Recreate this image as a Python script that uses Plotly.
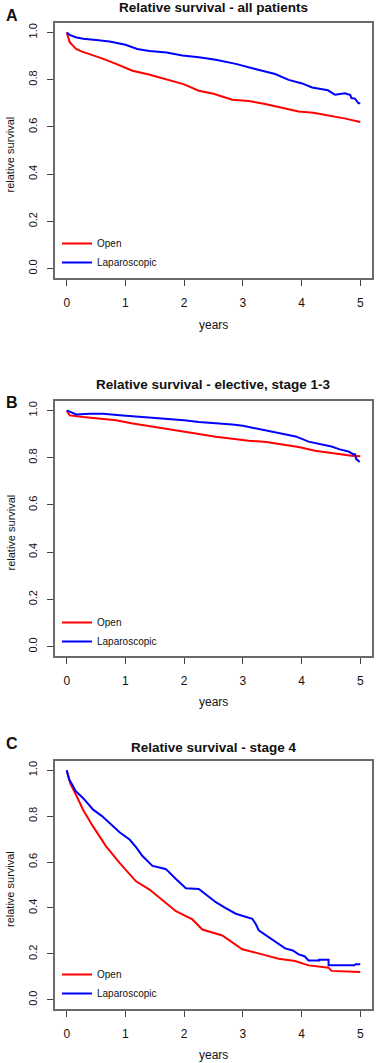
import plotly.graph_objects as go

# ---------------- data ----------------
years_ticks = [0, 1, 2, 3, 4, 5]
surv_ticks = [0.0, 0.2, 0.4, 0.6, 0.8, 1.0]
surv_tick_labels = ["0.0", "0.2", "0.4", "0.6", "0.8", "1.0"]

panel_titles = ["Relative survival - all patients",
                "Relative survival - elective, stage 1-3",
                "Relative survival - stage 4"]
panel_letters = ["A", "B", "C"]
series_names = ["Open", "Laparoscopic"]

# Panel A - all patients
a_open_x = [0, 0.02, 0.05, 0.1, 0.16, 0.25, 0.39, 0.6, 0.84, 1.12, 1.4, 1.69, 2.0, 2.25, 2.5,
            2.82, 3.1, 3.38, 3.65, 3.95, 4.2, 4.51, 4.75, 5.0]
a_open_y = [1.0, 0.98, 0.959, 0.945, 0.93, 0.92, 0.909, 0.89, 0.867, 0.838, 0.822, 0.803, 0.78,
            0.753, 0.74, 0.715, 0.71, 0.697, 0.683, 0.665, 0.66, 0.647, 0.635, 0.621]
a_lap_x = [0, 0.05, 0.15, 0.28, 0.5, 0.73, 1.0, 1.2, 1.41, 1.7, 1.97, 2.25, 2.54, 2.88, 3.21,
           3.55, 3.78, 4.01, 4.18, 4.34, 4.45, 4.57, 4.74, 4.83, 4.85, 4.91, 4.97, 5.0]
a_lap_y = [1.0, 0.99, 0.98, 0.973, 0.968, 0.962, 0.948, 0.93, 0.921, 0.915, 0.902, 0.895, 0.884,
           0.867, 0.845, 0.824, 0.799, 0.784, 0.767, 0.760, 0.755, 0.736, 0.742, 0.735, 0.722,
           0.72, 0.70, 0.70]

# Panel B - elective, stage 1-3
b_open_x = [0, 0.05, 0.28, 0.55, 0.84, 1.1, 1.41, 1.7, 1.97, 2.25, 2.54, 2.8, 3.10, 3.4, 3.67,
            3.95, 4.23, 4.45, 4.68, 4.85, 5.0]
b_open_y = [1.0, 0.979, 0.972, 0.965, 0.958, 0.946, 0.933, 0.92, 0.91, 0.9, 0.889, 0.88, 0.872,
            0.866, 0.857, 0.845, 0.829, 0.822, 0.812, 0.808, 0.806]
b_lap_x = [0, 0.08, 0.16, 0.4, 0.62, 0.9, 1.12, 1.4, 1.69, 2.0, 2.25, 2.54, 2.82, 3.0, 3.21,
           3.45, 3.67, 3.9, 4.12, 4.3, 4.51, 4.65, 4.80, 4.88, 4.91, 4.93, 4.99]
b_lap_y = [1.0, 0.99, 0.983, 0.986, 0.986, 0.98, 0.976, 0.97, 0.965, 0.958, 0.951, 0.947, 0.94,
           0.935, 0.924, 0.913, 0.903, 0.89, 0.868, 0.858, 0.847, 0.835, 0.826, 0.815, 0.815,
           0.795, 0.782]

# Panel C - stage 4
c_open_x = [0, 0.06, 0.16, 0.28, 0.45, 0.67, 0.9, 1.07, 1.18, 1.41, 1.63, 1.86, 2.14, 2.31,
            2.65, 2.99, 3.33, 3.61, 3.89, 4.12, 4.46, 4.51, 5.0]
c_open_y = [1.0, 0.942, 0.892, 0.827, 0.754, 0.668, 0.596, 0.545, 0.516, 0.48, 0.436, 0.386,
            0.35, 0.306, 0.28, 0.22, 0.198, 0.179, 0.169, 0.15, 0.14, 0.126, 0.121]
c_lap_x = [0, 0.04, 0.08, 0.15, 0.28, 0.45, 0.6, 0.73, 0.9, 1.07, 1.18, 1.29, 1.46, 1.6, 1.69,
           1.86, 2.03, 2.25, 2.4, 2.54, 2.7, 2.88, 3.16, 3.22, 3.27, 3.44, 3.6, 3.72, 3.85, 3.95,
           4.05, 4.12, 4.30, 4.30, 4.46, 4.46, 4.90, 4.92, 5.0]
c_lap_y = [1.0, 0.96, 0.943, 0.91, 0.878, 0.828, 0.80, 0.77, 0.73, 0.698, 0.665, 0.626, 0.583,
           0.575, 0.569, 0.526, 0.486, 0.483, 0.455, 0.425, 0.40, 0.375, 0.353, 0.33, 0.303,
           0.274, 0.245, 0.224, 0.215, 0.198, 0.19, 0.171, 0.171, 0.174, 0.174, 0.15, 0.15,
           0.155, 0.155]

panels = [
    (a_open_x, a_open_y, a_lap_x, a_lap_y),
    (b_open_x, b_open_y, b_lap_x, b_lap_y),
    (c_open_x, c_open_y, c_lap_x, c_lap_y),
]

# ---------------- layout geometry (pixels) ----------------
W, H = 376, 1063
FONT = "Arial, 'Liberation Sans', Helvetica, sans-serif"
RED = "#ff0000"
BLUE = "#0000ff"
BOX = "#6a6a6a"

box_left, box_right = 55, 372
box_tops = [23, 401, 761]
box_bottoms = [278, 656, 1009]
title_ys = [7, 385, 747]
letter_ys = [15, 402, 743]
years_ys = [325, 702, 1055]
legend_bottoms = [277, 656, 1008]


def py(px):
    return 1 - px / H


def pxx(px):
    return px / W


fig = go.Figure()
annotations = []

for i, (ox, oy, lx, ly) in enumerate(panels):
    n = "" if i == 0 else str(i + 1)
    leg = "legend" if i == 0 else f"legend{i + 1}"
    fig.add_trace(go.Scatter(x=ox, y=oy, mode="lines", name=series_names[0],
                             line=dict(color=RED, width=2), xaxis="x" + n, yaxis="y" + n,
                             legend=leg))
    fig.add_trace(go.Scatter(x=lx, y=ly, mode="lines", name=series_names[1],
                             line=dict(color=BLUE, width=2),
                             xaxis="x" + n, yaxis="y" + n, legend=leg))

    axis_common = dict(showline=True, linecolor=BOX, linewidth=1.5, mirror=True,
                       ticks="outside", ticklen=6, tickcolor="#444", tickwidth=1,
                       showgrid=False, zeroline=False,
                       tickfont=dict(family=FONT, size=12, color="#111"))
    fig.update_layout(**{
        "xaxis" + n: dict(domain=[pxx(box_left), pxx(box_right)], range=[-0.2, 5.2],
                          tickvals=years_ticks, anchor="y" + n,
                          ticklabelstandoff=7, **axis_common),
        "yaxis" + n: dict(domain=[py(box_bottoms[i]), py(box_tops[i])], range=[-0.04, 1.04],
                          tickvals=surv_ticks, ticktext=surv_tick_labels, tickangle=-90,
                          anchor="x" + n, ticklabelstandoff=6,
                          **{**axis_common, "tickfont": dict(family=FONT, size=11, color="#111")}),
        leg: dict(x=pxx(57), y=py(legend_bottoms[i]), xanchor="left", yanchor="bottom",
                  bgcolor="rgba(0,0,0,0)", itemwidth=30, tracegroupgap=0,
                  font=dict(family=FONT, size=10, color="#111")),
    })

    mid_y_px = (box_tops[i] + box_bottoms[i]) / 2
    annotations += [
        dict(text=f"<b>{panel_titles[i]}</b>", x=pxx((box_left + box_right) / 2),
             y=py(title_ys[i]), xref="paper", yref="paper", showarrow=False,
             xanchor="center", yanchor="middle", font=dict(family=FONT, size=13.5, color="#111")),
        dict(text=f"<b>{panel_letters[i]}</b>", x=pxx(12), y=py(letter_ys[i]),
             xref="paper", yref="paper", showarrow=False, xanchor="center", yanchor="middle",
             font=dict(family=FONT, size=16, color="#111")),
        dict(text="years", x=pxx((box_left + box_right) / 2), y=py(years_ys[i]),
             xref="paper", yref="paper", showarrow=False, xanchor="center", yanchor="middle",
             font=dict(family=FONT, size=12, color="#111")),
        dict(text="relative survival", x=pxx(10), y=py(mid_y_px + 4), xref="paper",
             yref="paper", showarrow=False, textangle=-90, xanchor="center",
             yanchor="middle", font=dict(family=FONT, size=11, color="#111")),
    ]

fig.update_layout(width=W, height=H, margin=dict(l=0, r=0, t=0, b=0),
                  paper_bgcolor="white", plot_bgcolor="white",
                  showlegend=True, annotations=annotations)

fig.write_html("out.html", config={"displayModeBar": False},
               post_script="document.body.style.margin='0';"
                           "document.body.style.overflow='hidden';")
